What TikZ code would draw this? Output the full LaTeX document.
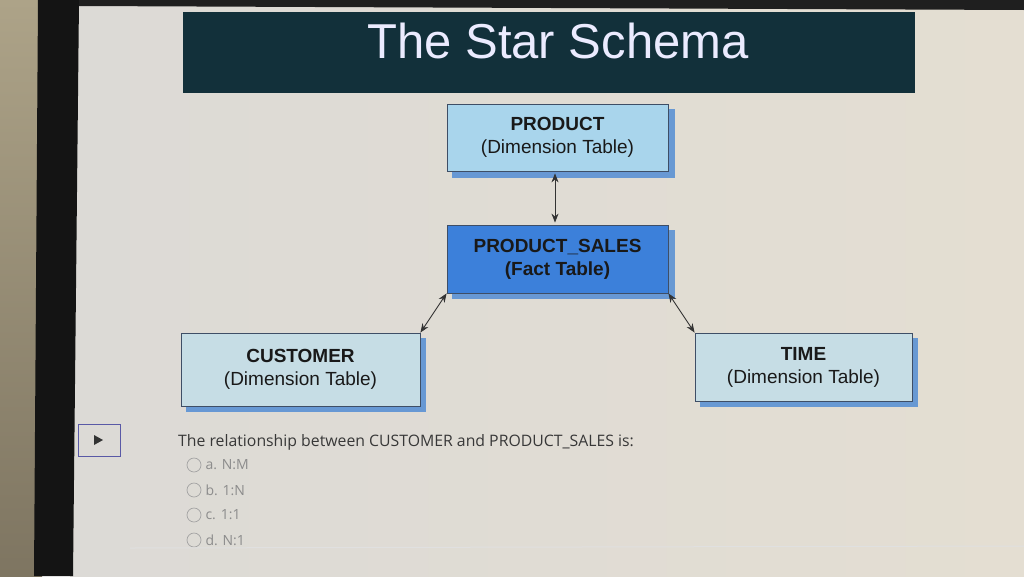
\documentclass[tikz,border=0pt]{standalone}
\usepackage{fontspec}
\setmainfont{Liberation Sans}
\newfontfamily\qfont{Open Sans}
\usetikzlibrary{arrows.meta}
\definecolor{banner}{HTML}{12303A}
\definecolor{screenL}{HTML}{DCDAD6}
\definecolor{screenR}{HTML}{E4DED2}
\definecolor{photoT}{HTML}{ADA388}
\definecolor{photoB}{HTML}{7E7561}
\definecolor{dimfill}{HTML}{A9D5EC}
\definecolor{dimfillB}{HTML}{C6DDE5}
\definecolor{factfill}{HTML}{3C80DA}
\definecolor{boxline}{HTML}{3E4E66}
\definecolor{shadowblue}{HTML}{4A88D4}
\definecolor{optgray}{HTML}{8C8C8C}
\tikzset{
  x=1pt, y=-1pt,
  dimbox/.style={draw=boxline, line width=0.8pt, fill=dimfill, align=center,
     inner sep=0pt, font=\fontsize{19}{23}\selectfont, text=black!90},
  sidebox/.style={dimbox, fill=dimfillB},
  factbox/.style={dimbox, fill=factfill},
  shadowbox/.style={fill=shadowblue, opacity=0.8},
  link/.style={line width=0.9pt, draw=black!80, shorten <=2pt, shorten >=2pt, {Stealth[length=9pt,width=7pt]}-{Stealth[length=9pt,width=7pt]}},
  opt/.style={anchor=west, font=\qfont\fontsize{14}{16}\selectfont, text=optgray},
  radio/.style={draw=optgray!80, line width=0.7pt, circle, minimum size=14pt, inner sep=0pt}
}
\begin{document}
\begin{tikzpicture}
\useasboundingbox (0,0) rectangle (1024,576);
% photo outside screen
\shade[top color=photoT, bottom color=photoB] (0,0) rectangle (42,576);
% screen
\shade[left color=screenL, right color=screenR] (70,0) rectangle (1024,576);
% bezel
\fill[black!92] (38,0) -- (79,0) -- (73,576) -- (34,576) -- cycle;
\fill[black!88] (79,0) -- (1024,0) -- (1024,10) -- (79,6) -- cycle;
% banner
\fill[banner] (183,12) rectangle (915,93);
\node[font=\fontsize{49}{55}\selectfont, text=white!92!blue] (title) at (558,41) {The Star Schema};
% shadows
\fill[shadowbox] (452,109) rectangle (675,178);
\fill[shadowbox] (452,230) rectangle (675,299);
\fill[shadowbox] (186,338) rectangle (426,412);
\fill[shadowbox] (700,338) rectangle (918,407);
% nodes
\node[dimbox, minimum width=221pt, minimum height=67pt] (product) at (557.5,137.5)
  {\textbf{PRODUCT}\\(Dimension Table)};
\node[factbox, minimum width=221pt, minimum height=68pt] (sales) at (557.5,259)
  {\textbf{PRODUCT\_SALES}\\\textbf{(Fact Table)}};
\node[sidebox, minimum width=239pt, minimum height=73pt] (customer) at (300.5,369.5)
  {\textbf{CUSTOMER}\\(Dimension Table)};
\node[sidebox, minimum width=217pt, minimum height=68pt] (time) at (803.5,367)
  {\textbf{TIME}\\(Dimension Table)};
% connectors
\draw[link] ([xshift=-2.5pt]product.south) -- ([xshift=-2.5pt]sales.north);
\draw[link, shorten <=0pt, shorten >=0pt] (sales.south west) -- (customer.north east);
\draw[link, shorten <=0pt, shorten >=0pt] (sales.south east) -- (time.north west);
% question area
\node[draw=blue!30!gray, line width=0.8pt, minimum width=42pt, minimum height=32pt, inner sep=0pt] (play) at (99,440) {};
\fill[black!80] (94,435) -- (103,440) -- (94,445) -- cycle;
\node[anchor=base west, font=\qfont\fontsize{15.8}{18}\selectfont, text=black!78, inner sep=0pt] (q) at (178,446)
  {The relationship between CUSTOMER and PRODUCT\_SALES is:};
\node[radio] (ra) at (194,465) {};
\node[radio] (rb) at (194,490) {};
\node[radio] (rc) at (194,515) {};
\node[radio] (rd) at (194,540) {};
\node[opt] (oa) at (202,465) {a. N:M};
\node[opt] (ob) at (202,490) {b. 1:N};
\node[opt] (oc) at (202,515) {c. 1:1};
\node[opt] (od) at (202,540) {d. N:1};
\draw[black!12, line width=1pt] (130,548) -- (1024,546);
\end{tikzpicture}
\end{document}
